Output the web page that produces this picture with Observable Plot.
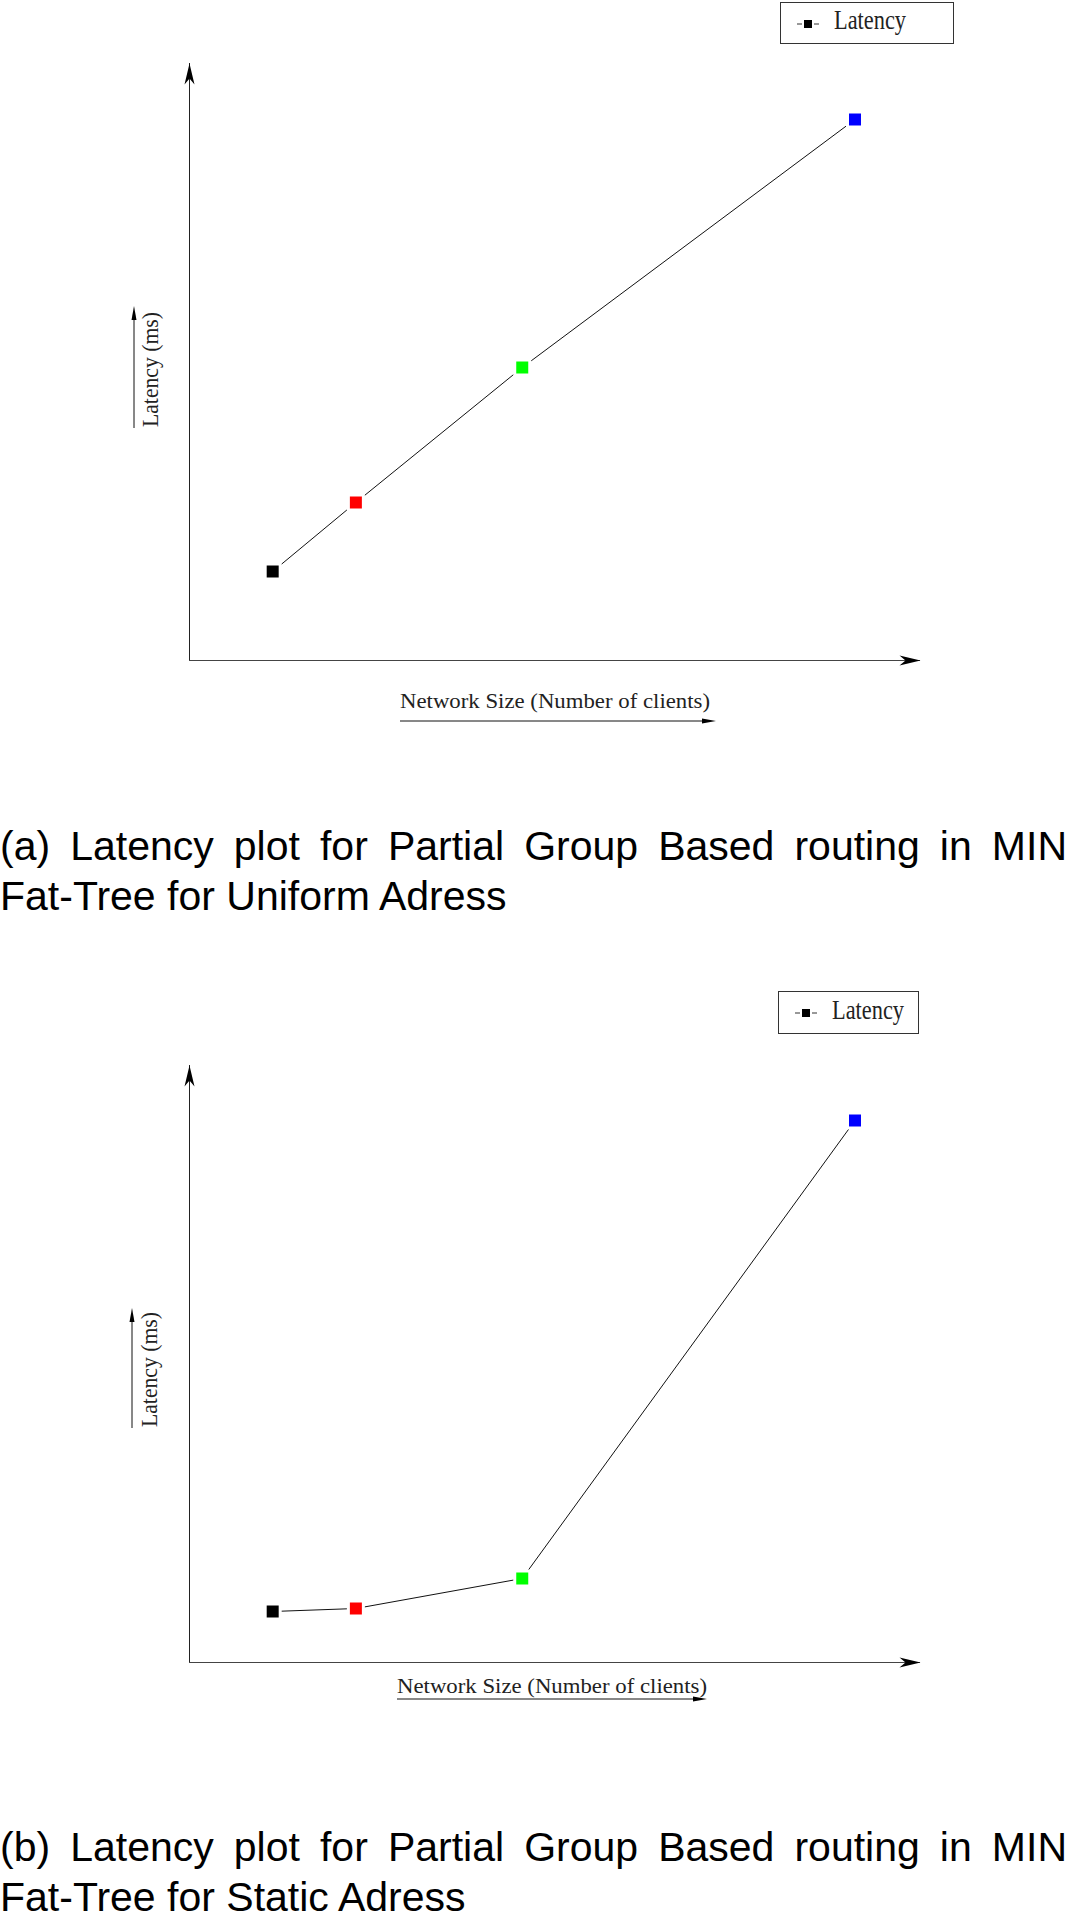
<!DOCTYPE html>
<html>
<head>
<meta charset="utf-8">
<script src="https://cdn.jsdelivr.net/npm/d3@7"></script>
<script src="https://cdn.jsdelivr.net/npm/@observablehq/plot@0.6"></script>
<style>
  html, body { margin: 0; padding: 0; background: #fff; }
  .block { position: relative; width: 1067px; }
  .block svg { position: absolute; left: 0; top: 0; }
  .cap { width: 1067px; font-family: "Liberation Sans", Arial, sans-serif; font-size: 41px; line-height: 50px; color: #000; }
  .cap .l1 { text-align: justify; text-align-last: justify; white-space: nowrap; }
  .cap .l2 { text-align: left; white-space: nowrap; }
</style>
</head>
<body>
<div id="root"></div>
<script>
// ---- data ----
const clients = [16, 32, 64, 128];
const latencyUniform = [8.9, 15.8, 29.3, 54.1];
const latencyStatic = [5.1, 5.4, 8.4, 54.2];
const pointColors = ["#000000", "#ff0000", "#00ff00", "#0000ff"];
const seriesName = "Latency";
const xLabel = "Network Size  (Number of clients)";
const yLabel = "Latency  (ms)";
const captions = [
  ["(a) Latency plot for Partial Group Based routing in MIN", "Fat-Tree for Uniform Adress"],
  ["(b) Latency plot for Partial Group Based routing in MIN", "Fat-Tree for Static Adress"]
];
const xDomain = [0, 140.6];
const yDomain = [0, 59.7];

// stealth-like arrowhead, tip at origin pointing right
const arrowSym = {
  draw(ctx) {
    ctx.moveTo(0, 0);
    ctx.lineTo(-21, -5);
    ctx.lineTo(-15, 0);
    ctx.lineTo(-21, 5);
    ctx.closePath();
  }
};

function makePlot(values, height, marginTop, marginBottom) {
  const rows = clients.map((c, i) => ({x: c, y: values[i], color: pointColors[i]}));
  return Plot.plot({
    width: 1067,
    height,
    marginLeft: 189,
    marginRight: 147,
    marginTop,
    marginBottom,
    x: {domain: xDomain, axis: null},
    y: {domain: yDomain, axis: null},
    style: {background: "transparent", overflow: "visible"},
    marks: [
      Plot.ruleY([yDomain[0]], {stroke: "#444", strokeWidth: 1}),
      Plot.ruleX([xDomain[0]], {stroke: "#222", strokeWidth: 1}),
      Plot.dot([{x: xDomain[1], y: yDomain[0]}], {x: "x", y: "y", symbol: arrowSym, fill: "#000", stroke: "none", r: 5}),
      Plot.dot([{x: xDomain[0], y: yDomain[1]}], {x: "x", y: "y", symbol: arrowSym, fill: "#000", stroke: "none", r: 5, rotate: -90}),
      Plot.line(rows, {x: "x", y: "y", stroke: "#111", strokeWidth: 1}),
      Plot.dot(rows, {x: "x", y: "y", symbol: "square", r: 18 / Math.sqrt(Math.PI), fill: "#fff", stroke: "none"}),
      Plot.dot(rows, {x: "x", y: "y", symbol: "square", r: 12 / Math.sqrt(Math.PI), fill: "color", stroke: "none"})
    ]
  });
}

const NS = "http://www.w3.org/2000/svg";
function el(tag, attrs, parent, text) {
  const e = document.createElementNS(NS, tag);
  for (const k in attrs) e.setAttribute(k, attrs[k]);
  if (text != null) e.textContent = text;
  parent.appendChild(e);
  return e;
}

function overlay(height, cfg) {
  const svg = document.createElementNS(NS, "svg");
  svg.setAttribute("width", 1067);
  svg.setAttribute("height", height);
  svg.style.pointerEvents = "none";
  const font = {"font-family": "Liberation Serif, DejaVu Serif, serif", fill: "#222", "lengthAdjust": "spacingAndGlyphs"};
  // y label + arrow
  el("text", Object.assign({transform: `translate(${cfg.yl.x},${cfg.yl.y}) rotate(-90)`, "font-size": 23, textLength: 115, "xml:space": "preserve"}, font), svg, yLabel);
  el("line", {x1: cfg.ya.x, x2: cfg.ya.x, y1: cfg.ya.y0, y2: cfg.ya.tip + 10, stroke: "#111", "stroke-width": 1}, svg);
  el("path", {d: `M${cfg.ya.x},${cfg.ya.tip}L${cfg.ya.x - 2.5},${cfg.ya.tip + 14}L${cfg.ya.x + 2.5},${cfg.ya.tip + 14}Z`, fill: "#000"}, svg);
  // x label + arrow
  el("text", Object.assign({x: cfg.xl.x, y: cfg.xl.y, "font-size": 22, textLength: 310, "xml:space": "preserve"}, font), svg, xLabel);
  el("line", {x1: cfg.xa.x0, x2: cfg.xa.tip - 10, y1: cfg.xa.y, y2: cfg.xa.y, stroke: "#111", "stroke-width": 1}, svg);
  el("path", {d: `M${cfg.xa.tip},${cfg.xa.y}L${cfg.xa.tip - 14},${cfg.xa.y - 2.5}L${cfg.xa.tip - 14},${cfg.xa.y + 2.5}Z`, fill: "#000"}, svg);
  // legend
  const L = cfg.lg;
  el("rect", {x: L.x + 0.5, y: L.y + 0.5, width: L.w, height: L.h, fill: "#fff", stroke: "#333", "stroke-width": 1}, svg);
  el("line", {x1: L.mx - 11, x2: L.mx - 6, y1: L.my, y2: L.my, stroke: "#333", "stroke-width": 1}, svg);
  el("line", {x1: L.mx + 6, x2: L.mx + 11, y1: L.my, y2: L.my, stroke: "#333", "stroke-width": 1}, svg);
  el("rect", {x: L.mx - 4, y: L.my - 4, width: 8, height: 8, fill: pointColors[0]}, svg);
  el("text", Object.assign({x: L.tx, y: L.ty, "font-size": 27, textLength: 72}, font), svg, seriesName);
  return svg;
}

const root = document.getElementById("root");
const specs = [
  {values: latencyUniform, height: 821, mt: 63, mb: 161,
   ov: {yl: {x: 158, y: 427}, ya: {x: 134, y0: 428, tip: 306},
        xl: {x: 400, y: 708}, xa: {x0: 400, tip: 716, y: 721},
        lg: {x: 780, y: 2, w: 173, h: 41, mx: 808, my: 24, tx: 834, ty: 29}}},
  {values: latencyStatic, height: 901, mt: 144, mb: 160,
   ov: {yl: {x: 157, y: 506}, ya: {x: 132, y0: 507, tip: 387},
        xl: {x: 397, y: 772}, xa: {x0: 397, tip: 707, y: 778},
        lg: {x: 778, y: 70, w: 140, h: 42, mx: 806, my: 92, tx: 832, ty: 98}}}
];
specs.forEach((s, i) => {
  const block = document.createElement("div");
  block.className = "block";
  block.style.height = s.height + "px";
  block.appendChild(makePlot(s.values, s.height, s.mt, s.mb));
  block.appendChild(overlay(s.height, s.ov));
  root.appendChild(block);
  const cap = document.createElement("div");
  cap.className = "cap";
  const l1 = document.createElement("div"); l1.className = "l1"; l1.textContent = captions[i][0];
  const l2 = document.createElement("div"); l2.className = "l2"; l2.textContent = captions[i][1];
  cap.appendChild(l1); cap.appendChild(l2);
  root.appendChild(cap);
});
</script>
</body>
</html>
